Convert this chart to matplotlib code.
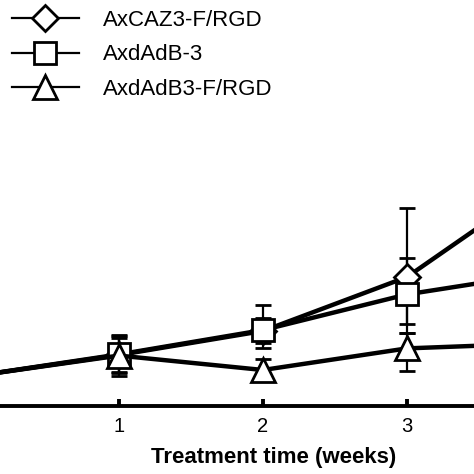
import matplotlib
matplotlib.use("Agg")
import matplotlib.pyplot as plt
from matplotlib.lines import Line2D
import numpy as np

plt.rcParams['font.family'] = ['Liberation Sans', 'DejaVu Sans']

weeks = [0, 1, 2, 3, 4]
names = ["AxCAZ3-F/RGD", "AxdAdB-3", "AxdAdB3-F/RGD"]
caz = [1.0, 1.70, 2.50, 4.30, 7.63]
dadb = [1.0, 1.72, 2.53, 3.72, 4.47]
rgd = [1.0, 1.68, 1.20, 1.92, 2.10]
# lower / upper error
caz_lo = [0, 0.60, 0.41, 1.57, 0]
caz_hi = [0, 0.62, 0.42, 2.29, 0]
dadb_lo = [0, 0.60, 0.59, 1.30, 0]
dadb_hi = [0, 0.55, 0.84, 1.20, 0]
rgd_lo = [0, 0.67, 0.36, 0.75, 0]
rgd_hi = [0, 0.67, 0.36, 0.52, 0]

fig = plt.figure(figsize=(4.74, 4.74), dpi=100)
ax = fig.add_axes([0, 68 / 474, 1, 406 / 474])

series = [(caz, caz_lo, caz_hi, 'D', 13),
          (dadb, dadb_lo, dadb_hi, 's', 16),
          (rgd, rgd_lo, rgd_hi, '^', 17)]

handles = []
for (vals, lo, hi, mk, ms), name in zip(series, names):
    ax.errorbar(weeks, vals, yerr=[lo, hi], color='black', lw=3.2,
                marker=mk, ms=ms, mfc='white', mec='black', mew=2,
                elinewidth=1.6, capsize=6, capthick=1.6)
    handles.append(Line2D([], [], color='black', lw=1.6, marker=mk, ms=ms,
                          mfc='white', mec='black', mew=2))

ax.set_xlim(0.174, 3.465)
ax.set_ylim(0, 13.53)
for s in ['left', 'right', 'top']:
    ax.spines[s].set_visible(False)
ax.spines['bottom'].set_linewidth(2.8)
ax.set_yticks([])
ax.set_xticks([1, 2, 3])
ax.tick_params(axis='x', direction='in', length=5, width=2.8, labelsize=14.5, pad=8)
ax.set_xlabel("Treatment time (weeks)", fontsize=16, fontweight='bold')
ax.xaxis.set_label_coords(274 / 474, -41 / 406)

ax.legend(handles, names, loc='upper left', bbox_to_anchor=(12 / 474, 1 - 10 / 406),
          frameon=False, fontsize=16, handlelength=3.0, handletextpad=1.08,
          labelspacing=0.6, borderaxespad=0, borderpad=0)

fig.savefig("out.png", dpi=100)
